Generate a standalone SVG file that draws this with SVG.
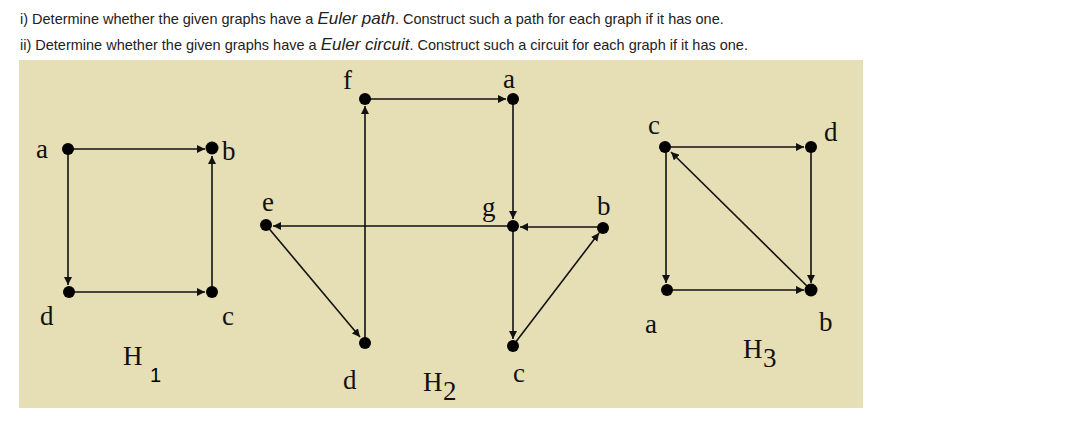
<svg xmlns="http://www.w3.org/2000/svg" width="1082" height="422" viewBox="0 0 1082 422">
<style>
.t{font-family:"Liberation Sans",Arial,sans-serif;font-size:14.5px;fill:#222}
.i{font-style:italic;font-size:17px}
.l{font-family:"Liberation Serif","Times New Roman",serif;font-size:27px;fill:#111}
.e{stroke:#111;stroke-width:1.6;fill:none;marker-end:url(#ar)}
.n{fill:#000}
</style>
<defs><marker id="ar" viewBox="0 0 10 10" refX="10" refY="5" markerWidth="6" markerHeight="6" orient="auto" markerUnits="userSpaceOnUse"><path d="M0,0L10,5L0,10z" fill="#111"/></marker>
<marker id="ar2" viewBox="0 0 10 10" refX="10" refY="5" markerWidth="8" markerHeight="8" orient="auto" markerUnits="userSpaceOnUse"><path d="M0,0L10,5L0,10z" fill="#111"/></marker></defs>
<rect width="1082" height="422" fill="#fff"/>
<text class="t" x="20" y="24">i) Determine whether the given graphs have a <tspan class="i">Euler path</tspan>.  Construct such a path for each graph if it has one.</text>
<text class="t" x="20" y="50">ii) Determine whether the given graphs have a <tspan class="i">Euler circuit</tspan>.  Construct such a circuit for each graph if it has one.</text>
<rect x="19" y="60" width="844" height="348" fill="#e6dfb6"/>
<g id="connectors" style="marker-end:url(#ar2)">
<line class="e" style="marker-end:url(#ar2)" x1="68" y1="149" x2="205" y2="149"/>
<line class="e" style="marker-end:url(#ar2)" x1="68" y1="149" x2="68" y2="285"/>
<line class="e" style="marker-end:url(#ar2)" x1="68" y1="292" x2="205" y2="292"/>
<line class="e" style="marker-end:url(#ar2)" x1="212" y1="292" x2="212" y2="156"/>
<line class="e" style="marker-end:url(#ar2)" x1="365" y1="99" x2="506" y2="99"/>
<line class="e" style="marker-end:url(#ar2)" x1="513" y1="99" x2="513" y2="219"/>
<line class="e" style="marker-end:url(#ar2)" x1="365" y1="343" x2="365" y2="106"/>
<line class="e" style="marker-end:url(#ar2)" x1="513" y1="226" x2="273" y2="226"/>
<line class="e" style="marker-end:url(#ar2)" x1="603" y1="227" x2="520" y2="227"/>
<line class="e" style="marker-end:url(#ar2)" x1="266" y1="225" x2="360" y2="337"/>
<line class="e" style="marker-end:url(#ar2)" x1="513" y1="226" x2="513" y2="339"/>
<line class="e" style="marker-end:url(#ar2)" x1="515" y1="343" x2="599" y2="233"/>
<line class="e" style="marker-end:url(#ar2)" x1="665" y1="147" x2="804" y2="147"/>
<line class="e" style="marker-end:url(#ar2)" x1="811" y1="147" x2="811" y2="283"/>
<line class="e" style="marker-end:url(#ar2)" x1="811" y1="290" x2="671" y2="152"/>
<line class="e" style="marker-end:url(#ar2)" x1="666" y1="147" x2="666" y2="283"/>
<line class="e" style="marker-end:url(#ar2)" x1="667" y1="290" x2="804" y2="290"/>
</g>
<g id="H1">
<g id="h1a"><circle class="n" cx="68" cy="149" r="6"/><text class="l" x="36" y="158">a</text></g>
<g id="h1b"><circle class="n" cx="212" cy="148" r="6.5"/><text class="l" x="222" y="160">b</text></g>
<g id="h1d"><circle class="n" cx="69" cy="292" r="6"/><text class="l" x="40" y="325">d</text></g>
<g id="h1c"><circle class="n" cx="212" cy="292" r="6"/><text class="l" x="222" y="325">c</text></g>
<text class="l" x="123" y="365">H</text><text x="150" y="382" font-family="Liberation Sans,Arial,sans-serif" font-size="20" fill="#000">1</text>
</g>
<g id="H2">
<g id="h2f"><circle class="n" cx="365" cy="99" r="6"/><text class="l" x="343" y="89">f</text></g>
<g id="h2a"><circle class="n" cx="513" cy="99" r="6"/><text class="l" x="503" y="88">a</text></g>
<g id="h2e"><circle class="n" cx="266" cy="225" r="6"/><text class="l" x="262" y="211">e</text></g>
<g id="h2g"><circle class="n" cx="513" cy="226" r="6"/><text class="l" x="482" y="216">g</text></g>
<g id="h2b"><circle class="n" cx="603" cy="228" r="6"/><text class="l" x="597" y="215">b</text></g>
<g id="h2d"><circle class="n" cx="365" cy="343" r="6"/><text class="l" x="343" y="389">d</text></g>
<g id="h2c"><circle class="n" cx="513" cy="346" r="6"/><text class="l" x="513" y="382">c</text></g>
<text class="l" x="423" y="391">H</text><text class="l" x="443" y="400" font-size="18">2</text>
</g>
<g id="H3">
<g id="h3c"><circle class="n" cx="665" cy="147" r="6"/><text class="l" x="648" y="134">c</text></g>
<g id="h3d"><circle class="n" cx="811" cy="147" r="6"/><text class="l" x="824" y="141">d</text></g>
<g id="h3a"><circle class="n" cx="667" cy="290" r="6"/><text class="l" x="645" y="333">a</text></g>
<g id="h3b"><circle class="n" cx="811" cy="290" r="6.5"/><text class="l" x="819" y="331">b</text></g>
<text class="l" x="743" y="358">H</text><text class="l" x="763" y="367" font-size="18">3</text>
</g>
</svg>
